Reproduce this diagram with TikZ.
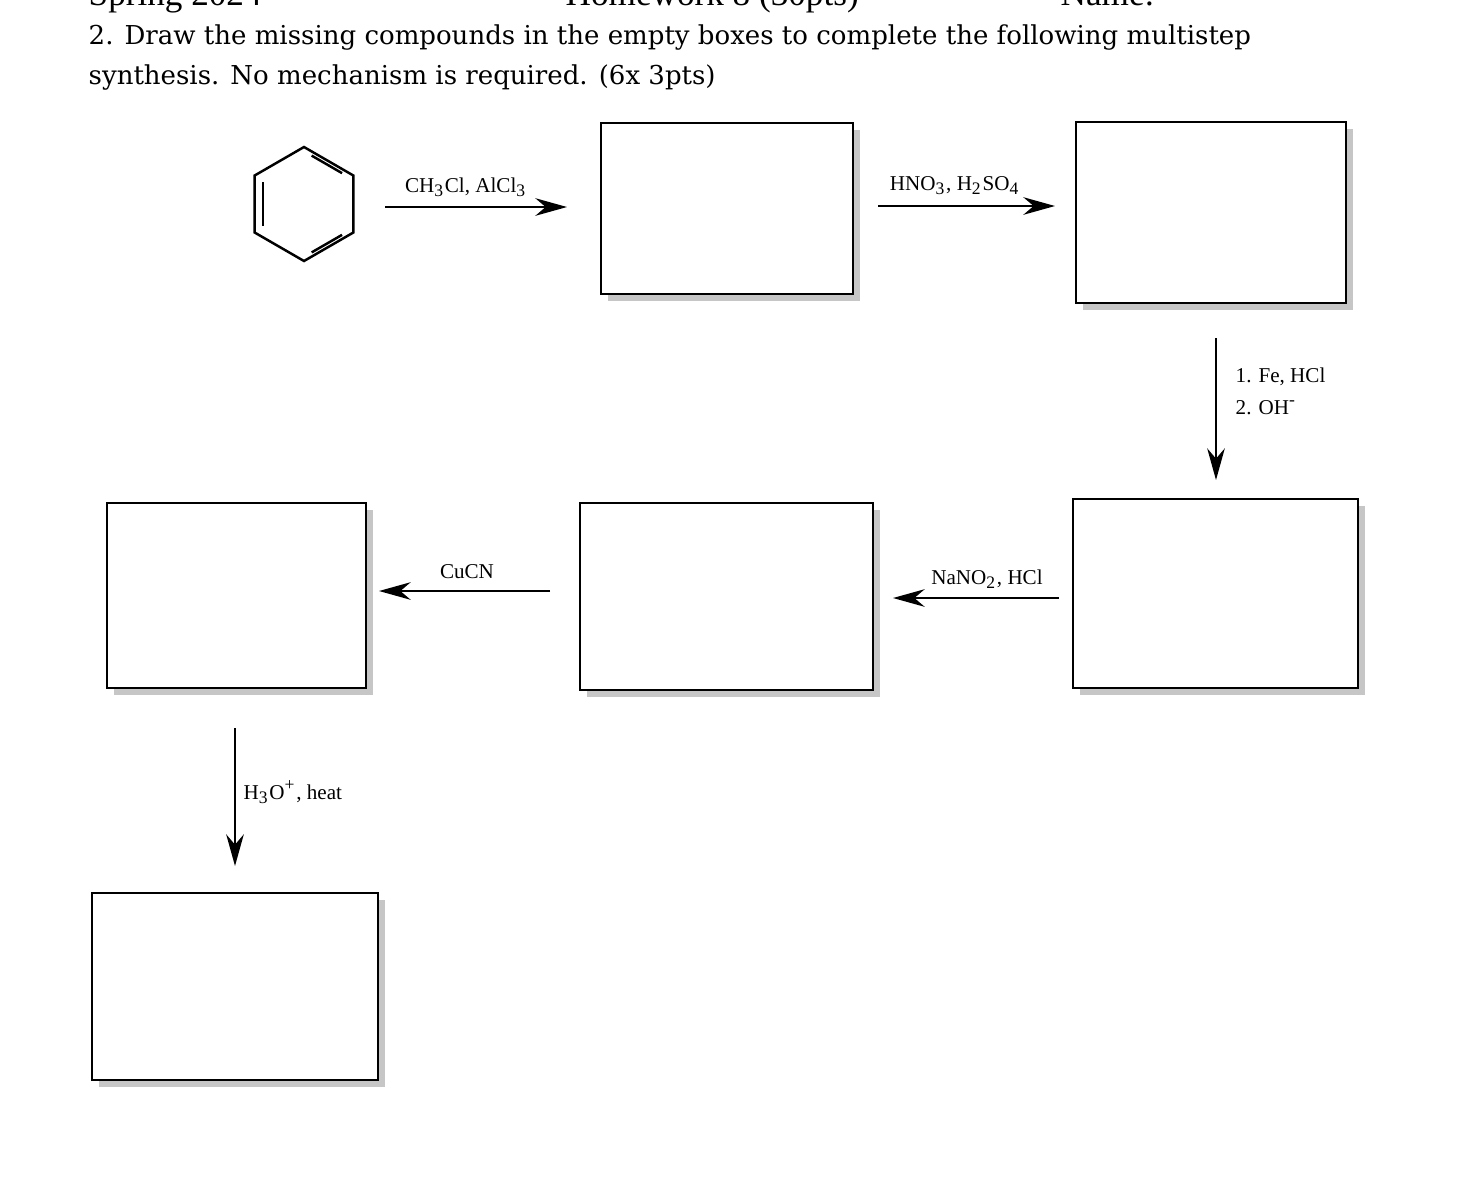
\documentclass[tikz,border=0pt]{standalone}
\usepackage{fontspec}
\setmainfont{Liberation Serif}
\newfontfamily\titlefont{DejaVu Serif}
\usetikzlibrary{arrows.meta}
\newcommand{\sbs}[1]{\textsubscript{#1}}
\newcommand{\sps}[1]{\textsuperscript{#1}}
\begin{document}
\begin{tikzpicture}[x=0.01cm,y=-0.01cm,
  box/.style={draw,line width=0.75pt,fill=white},
  rx/.style={-{Stealth[length=9pt,width=5pt]},line width=0.6pt},
  lab/.style={font=\fontsize{6pt}{7pt}\selectfont,inner sep=0pt}]
\useasboundingbox (0,0) rectangle (1484,1202);
\begin{scope}
\clip (0,0) rectangle (1484,1202);
\node[anchor=base west,inner sep=0pt,font=\fontsize{10pt}{12pt}\selectfont] (hd1) at (88,5) {Spring 2024};
\node[anchor=base west,inner sep=0pt,font=\fontsize{10pt}{12pt}\selectfont] (hd2) at (565,5) {Homework 8 (30pts)};
\node[anchor=base west,inner sep=0pt,font=\fontsize{10pt}{12pt}\selectfont] (hd3) at (1060,5) {Name:};
\end{scope}
\node[anchor=base west,inner sep=0pt,font=\titlefont\fontsize{7.4pt}{10pt}\selectfont] (t1) at (88,44) {2. Draw the missing compounds in the empty boxes to complete the following multistep};
\node[anchor=base west,inner sep=0pt,font=\titlefont\fontsize{7.4pt}{10pt}\selectfont] (t2) at (88,84) {synthesis. No mechanism is required. (6x 3pts)};
\foreach \n/\a/\b/\c/\d in {b1/601/123/853/294, b2/1076/122/1346/303, b3/1073/499/1358/688, b4/580/503/873/690, b5/107/503/366/688, b6/92/893/378/1080}{
  \fill[gray!45] (\a+7,\b+7) rectangle (\c+7,\d+7);
  \draw[box] (\a,\b) rectangle (\c,\d);
  \coordinate (\n) at ({(\a+\c)/2},{(\b+\d)/2});
}
\begin{scope}[shift={(304,204)},line width=0.7pt]
\draw (90:57) -- (30:57) -- (-30:57) -- (-90:57) -- (-150:57) -- (150:57) -- cycle;
\draw (81:49) -- (39:49);
\draw (-81:49) -- (-39:49);
\draw (-152:46.5) -- (152:46.5);
\end{scope}
\coordinate (a1s) at (385,207); \coordinate (a1e) at (567,207);
\draw[rx] (a1s) -- (a1e);
\node[lab,anchor=base] (l1) at (466,192) {CH\sbs{3}Cl, AlCl\sbs{3}};
\coordinate (a2s) at (878,206); \coordinate (a2e) at (1055,206);
\draw[rx] (a2s) -- (a2e);
\node[lab,anchor=base] (l2) at (955,190) {HNO\sbs{3}, H\sbs{2}SO\sbs{4}};
\coordinate (a3s) at (1216,338); \coordinate (a3e) at (1216,480);
\draw[rx] (a3s) -- (a3e);
\node[lab,anchor=base west] (l3) at (1235,382) {1. Fe, HCl};
\node[lab,anchor=base west] (l4) at (1235,414) {2. OH\sps{-}};
\coordinate (a4s) at (1059,598); \coordinate (a4e) at (893,598);
\draw[rx] (a4s) -- (a4e);
\node[lab,anchor=base] (l5) at (987,584) {NaNO\sbs{2}, HCl};
\coordinate (a5s) at (550,591); \coordinate (a5e) at (379,591);
\draw[rx] (a5s) -- (a5e);
\node[lab,anchor=base] (l6) at (467,578) {CuCN};
\coordinate (a6s) at (235,728); \coordinate (a6e) at (235,866);
\draw[rx] (a6s) -- (a6e);
\node[lab,anchor=base west] (l7) at (243,799) {H\sbs{3}O\sps{+}, heat};
\end{tikzpicture}
\end{document}
